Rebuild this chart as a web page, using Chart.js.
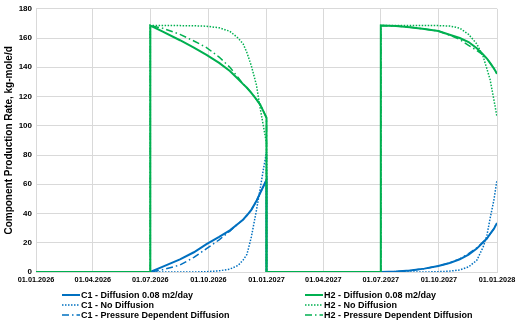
<!DOCTYPE html>
<html><head><meta charset="utf-8">
<script src="https://cdn.jsdelivr.net/npm/chart.js@4/dist/chart.umd.min.js"></script>
<style>
html,body{margin:0;padding:0;background:#fff;}
#wrap{position:relative;width:520px;height:323px;overflow:hidden;}
#c{position:absolute;left:0;top:0;}
.item{position:absolute;height:10px;line-height:10px;white-space:nowrap;font:bold 9px "Liberation Sans",Arial,sans-serif;color:#000;}
.item svg{position:absolute;left:0;top:0;}
.item span{position:absolute;top:0;}
</style></head><body>
<div id="wrap"><canvas id="c" width="520" height="323"></canvas><div id="legend"></div></div>
<script>
// ---- data ----
const tickDays   = [0, 90, 181, 273, 365, 455, 546, 638, 730];
const tickLabels = ['01.01.2026','01.04.2026','01.07.2026','01.10.2026','01.01.2027','01.04.2027','01.07.2027','01.10.2027','01.01.2028'];

// days since 01.01.2026
const days = [0, 181, 181, 200, 228, 250, 270, 290, 307, 320, 328, 334, 341, 349, 355, 360, 365, 365,
              546, 546, 570, 592, 615, 637, 655, 671, 685, 698, 708, 714, 719, 725, 730];

const c1Diffusion = [0, 0, 0, 3.5, 8.6, 13.5, 19, 24, 28.5, 33, 35.8, 38.8, 42.5, 48.5, 54, 58.5, 63, 0,
                     0, 0, 0.3, 1, 2.3, 4.1, 6.2, 8.6, 11.8, 16, 20.3, 22.9, 26, 29.5, 33.5];
const c1NoDiffusion = [0, 0, 0, 0, 0, 0, 0.2, 0.8, 2, 4.5, 8.2, 12, 24, 42, 57, 70, 82, 0,
                       0, 0, 0, 0, 0, 0.2, 0.6, 1.4, 3.5, 8, 17, 25, 36.5, 49, 63];
const c1PressureDep = [0, 0, 0, 1.5, 4.8, 10, 16, 22, 28, 33, 35.8, 38.8, 42.5, 48.5, 54, 58.5, 63, 0,
                       0, 0, 0.3, 1, 2.3, 4.1, 6.2, 9, 12.5, 16.5, 20.5, 23, 26, 29.5, 33.5];
const h2Diffusion = [0, 0, 168.5, 164.5, 158.5, 153.5, 148.5, 143, 137.5, 132, 128.5, 126, 122.5, 118, 114.5, 110, 105.5, 0,
                     0, 168.5, 168.2, 167.4, 166.2, 164.8, 162.3, 160, 157.3, 153, 148.8, 146, 143, 139.3, 135.5];
const h2NoDiffusion = [0, 0, 168.5, 168.5, 168.5, 168.4, 168.1, 167, 164.6, 160, 156, 150, 141, 128, 112, 100, 88, 0,
                       0, 168.5, 168.5, 168.5, 168.5, 168.5, 168.2, 166.8, 162.5, 156, 147.5, 139, 131.7, 118, 106];
const h2PressureDep = [0, 0, 168.5, 166.8, 162.5, 158, 153.5, 147, 140, 133, 128.5, 126, 122.5, 118, 114.5, 110, 105.5, 0,
                       0, 168.5, 168.2, 167.4, 166.2, 164.8, 162, 159, 155, 151.5, 148.5, 146, 143, 139.3, 135.5];

const seriesNames = ['C1 - Diffusion 0.08 m2/day','C1 - No Diffusion','C1 - Pressure Dependent Diffusion',
                     'H2 - Diffusion 0.08 m2/day','H2 - No Diffusion','H2 - Pressure Dependent Diffusion'];

// ---- styles ----
const BLUE = '#0070C0', GREEN = '#00B050';
const SOLID = [], DOT = [1.5, 1.5], DASHDOT = [7, 3, 1.5, 3];
const styles = [
  {c: BLUE, w: 2, d: SOLID}, {c: BLUE, w: 1.5, d: DOT}, {c: BLUE, w: 1.5, d: DASHDOT},
  {c: GREEN, w: 2, d: SOLID}, {c: GREEN, w: 1.5, d: DOT}, {c: GREEN, w: 1.5, d: DASHDOT}
];
const allValues = [c1Diffusion, c1NoDiffusion, c1PressureDep, h2Diffusion, h2NoDiffusion, h2PressureDep];
// draw order (higher "order" drawn first / underneath)
const drawOrder = [3, 4, 2, 1, 5, 0];

const datasets = allValues.map((vals, i) => ({
  label: seriesNames[i],
  data: days.map((d, k) => ({x: d, y: vals[k]})),
  borderColor: styles[i].c,
  backgroundColor: styles[i].c,
  borderWidth: styles[i].w,
  borderDash: styles[i].d,
  pointRadius: 0,
  tension: 0,
  fill: false,
  order: drawOrder[i]
}));

const GRID = '#d9d9d9';
const FONT = '"Liberation Sans", Arial, sans-serif';

new Chart(document.getElementById('c'), {
  type: 'line',
  data: {datasets},
  options: {
    responsive: false,
    devicePixelRatio: 1,
    animation: false,
    layout: {padding: {left: 0, right: 23, top: 7, bottom: 0}},
    plugins: {legend: {display: false}, tooltip: {enabled: false}},
    scales: {
      x: {
        type: 'linear', min: 0, max: 730,
        afterBuildTicks: s => { s.ticks = tickDays.map(v => ({value: v})); },
        afterFit: s => { s.height = 51; },
        grid: {color: GRID, lineWidth: 1, drawTicks: false},
        border: {color: GRID, width: 1},
        ticks: {
          autoSkip: false, maxRotation: 0, padding: 4, color: '#000',
          font: {family: FONT, size: 7.3, weight: 'bold'},
          callback: v => { const i = tickDays.indexOf(v); return i >= 0 ? tickLabels[i] : ''; }
        }
      },
      y: {
        min: 0, max: 180,
        afterFit: s => { s.width = 36; },
        grid: {color: GRID, lineWidth: 1, drawTicks: false},
        border: {color: GRID, width: 1},
        ticks: {stepSize: 20, padding: 4, color: '#000', font: {family: FONT, size: 8, weight: 'bold'}},
        title: {display: true, text: 'Component Production Rate, kg-mole/d', color: '#000',
                padding: {top: 3, bottom: 0}, font: {family: FONT, size: 10, weight: 'bold'}}
      }
    }
  }
});

// ---- HTML legend (two columns) ----
const legendPos = [
  {x: 61, y: 290}, {x: 61, y: 300}, {x: 61, y: 309.5},
  {x: 304, y: 290}, {x: 304, y: 300}, {x: 304, y: 309.5}
];
const leg = document.getElementById('legend');
seriesNames.forEach((name, i) => {
  const st = styles[i];
  const div = document.createElement('div');
  div.className = 'item';
  div.style.left = legendPos[i].x + 'px';
  div.style.top = legendPos[i].y + 'px';
  const dash = st.d.length ? ` stroke-dasharray="${st.d.join(' ')}"` : '';
  div.innerHTML = `<svg width="20" height="10"><line x1="1" y1="5" x2="19" y2="5" stroke="${st.c}" stroke-width="${st.w}"${dash}/></svg><span style="left:20px">${name}</span>`;
  leg.appendChild(div);
});
</script>
</body></html>
